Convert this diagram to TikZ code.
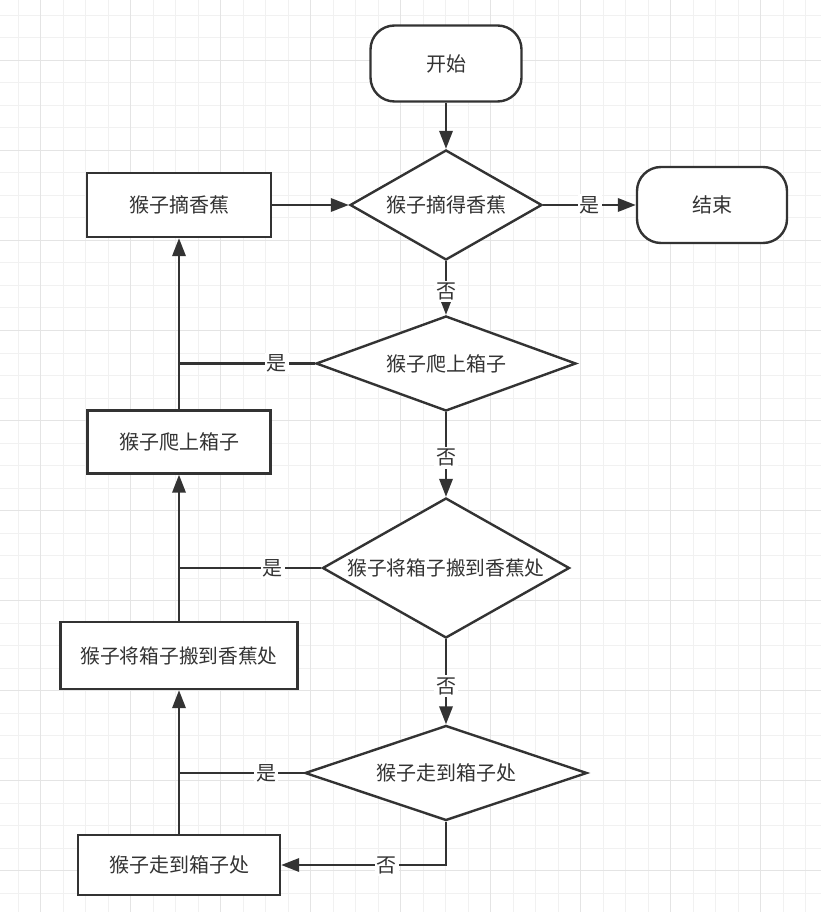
\documentclass[tikz,border=0pt]{standalone}
\usepackage{fontspec}
\newfontfamily\cjk{Noto Sans CJK SC}
\usetikzlibrary{shapes.geometric,arrows.meta,calc}
\definecolor{ink}{HTML}{333333}
\definecolor{gridminor}{HTML}{F1F1F1}
\definecolor{gridmajor}{HTML}{E4E4E4}
\tikzset{
  base/.style={draw=ink,line width=1.8pt,fill=white,text=ink,inner sep=0pt,
    font=\cjk\fontsize{15pt}{18pt}\selectfont},
  bigtext/.style={font=\cjk\fontsize{14.8pt}{18pt}\selectfont},
  terminal/.style={base,rectangle,rounded corners=18pt},
  procbox/.style={base,rectangle},
  decision/.style={base,diamond,aspect=1},
  arr/.style={draw=ink,line width=1.8pt,-{Triangle[length=13.5pt,width=10pt]}},
  link/.style={draw=ink,line width=1.8pt},
  lbl/.style={fill=white,text=ink,inner sep=1.5pt,font=\cjk\fontsize{15pt}{18pt}\selectfont},
}
\newcommand{\zb}[1]{\makebox[0pt]{#1}}
\begin{document}
\begin{tikzpicture}[x=0.75pt,y=-0.75pt]
\useasboundingbox (0,0) rectangle (821,912);
\fill[white] (0,0) rectangle (821,912);
% grid
\foreach \i in {0,...,36} {
  \draw[gridminor,line width=0.75pt] ({18+22.5*\i},0) -- ({18+22.5*\i},912);
}
\foreach \i in {0,...,40} {
  \draw[gridminor,line width=0.75pt] (0,{15.5+22.5*\i}) -- (821,{15.5+22.5*\i});
}
\foreach \i in {0,...,8} {
  \draw[gridmajor,line width=0.75pt] ({40.5+90*\i},0) -- ({40.5+90*\i},912);
}
\foreach \i in {0,...,9} {
  \draw[gridmajor,line width=0.75pt] (0,{60.5+90*\i}) -- (821,{60.5+90*\i});
}
% nodes
\node[terminal,minimum width=113.25pt,minimum height=57pt] (start) at (446,63.5) {开始};
\node[decision,minimum width=144pt,minimum height=82.5pt] (d1) at (446,205) {\zb{猴子摘得香蕉}};
\node[terminal,minimum width=112.5pt,minimum height=57pt] (end) at (712,205) {结束};
\node[procbox,minimum width=138pt,minimum height=48pt] (r1) at (179,205) {猴子摘香蕉};
\node[decision,minimum width=195pt,minimum height=71.25pt] (d2) at (446,363.5) {\zb{猴子爬上箱子}};
\node[procbox,minimum width=137.25pt,minimum height=47.25pt] (r2) at (179,442) {猴子爬上箱子};
\node[decision,bigtext,minimum width=185.25pt,minimum height=105pt] (d3) at (446,568) {\zb{猴子将箱子搬到香蕉处}};
\node[procbox,bigtext,minimum width=177.75pt,minimum height=50.25pt] (r3) at (179,655.5) {猴子将箱子搬到香蕉处};
\node[decision,minimum width=211.5pt,minimum height=71.25pt] (d4) at (446,773) {\zb{猴子走到箱子处}};
\node[procbox,minimum width=151.5pt,minimum height=45pt] (r4) at (179,865) {猴子走到箱子处};
% junction coordinates
\coordinate (j2) at (r1.south |- d2.west);
\coordinate (j3) at (r1.south |- d3.west);
\coordinate (j4) at (r1.south |- d4.west);
% connectors
\draw[arr] (start) -- (d1);
\draw[arr] (r1) -- (d1);
\draw[arr] (d1) -- node[lbl,pos=0.5]{是} (end);
\draw[arr] (d1) -- node[lbl,pos=0.57]{否} (d2);
\draw[arr] (d2) -- node[lbl,pos=0.54]{否} (d3);
\draw[arr] (d3) -- node[lbl,pos=0.55]{否} (d4);
\draw[arr] (d4.south) |- node[lbl,pos=0.68]{否} (r4.east);
\draw[link] (d2.west) -- node[lbl,pos=0.28]{是} (j2);
\draw[link] (d3.west) -- node[lbl,pos=0.34]{是} (j3);
\draw[link] (d4.west) -- node[lbl,pos=0.3]{是} (j4);
\draw[arr] (r2) -- (r1);
\draw[arr] (r3) -- (r2);
\draw[arr] (r4) -- (r3);
\end{tikzpicture}
\end{document}
